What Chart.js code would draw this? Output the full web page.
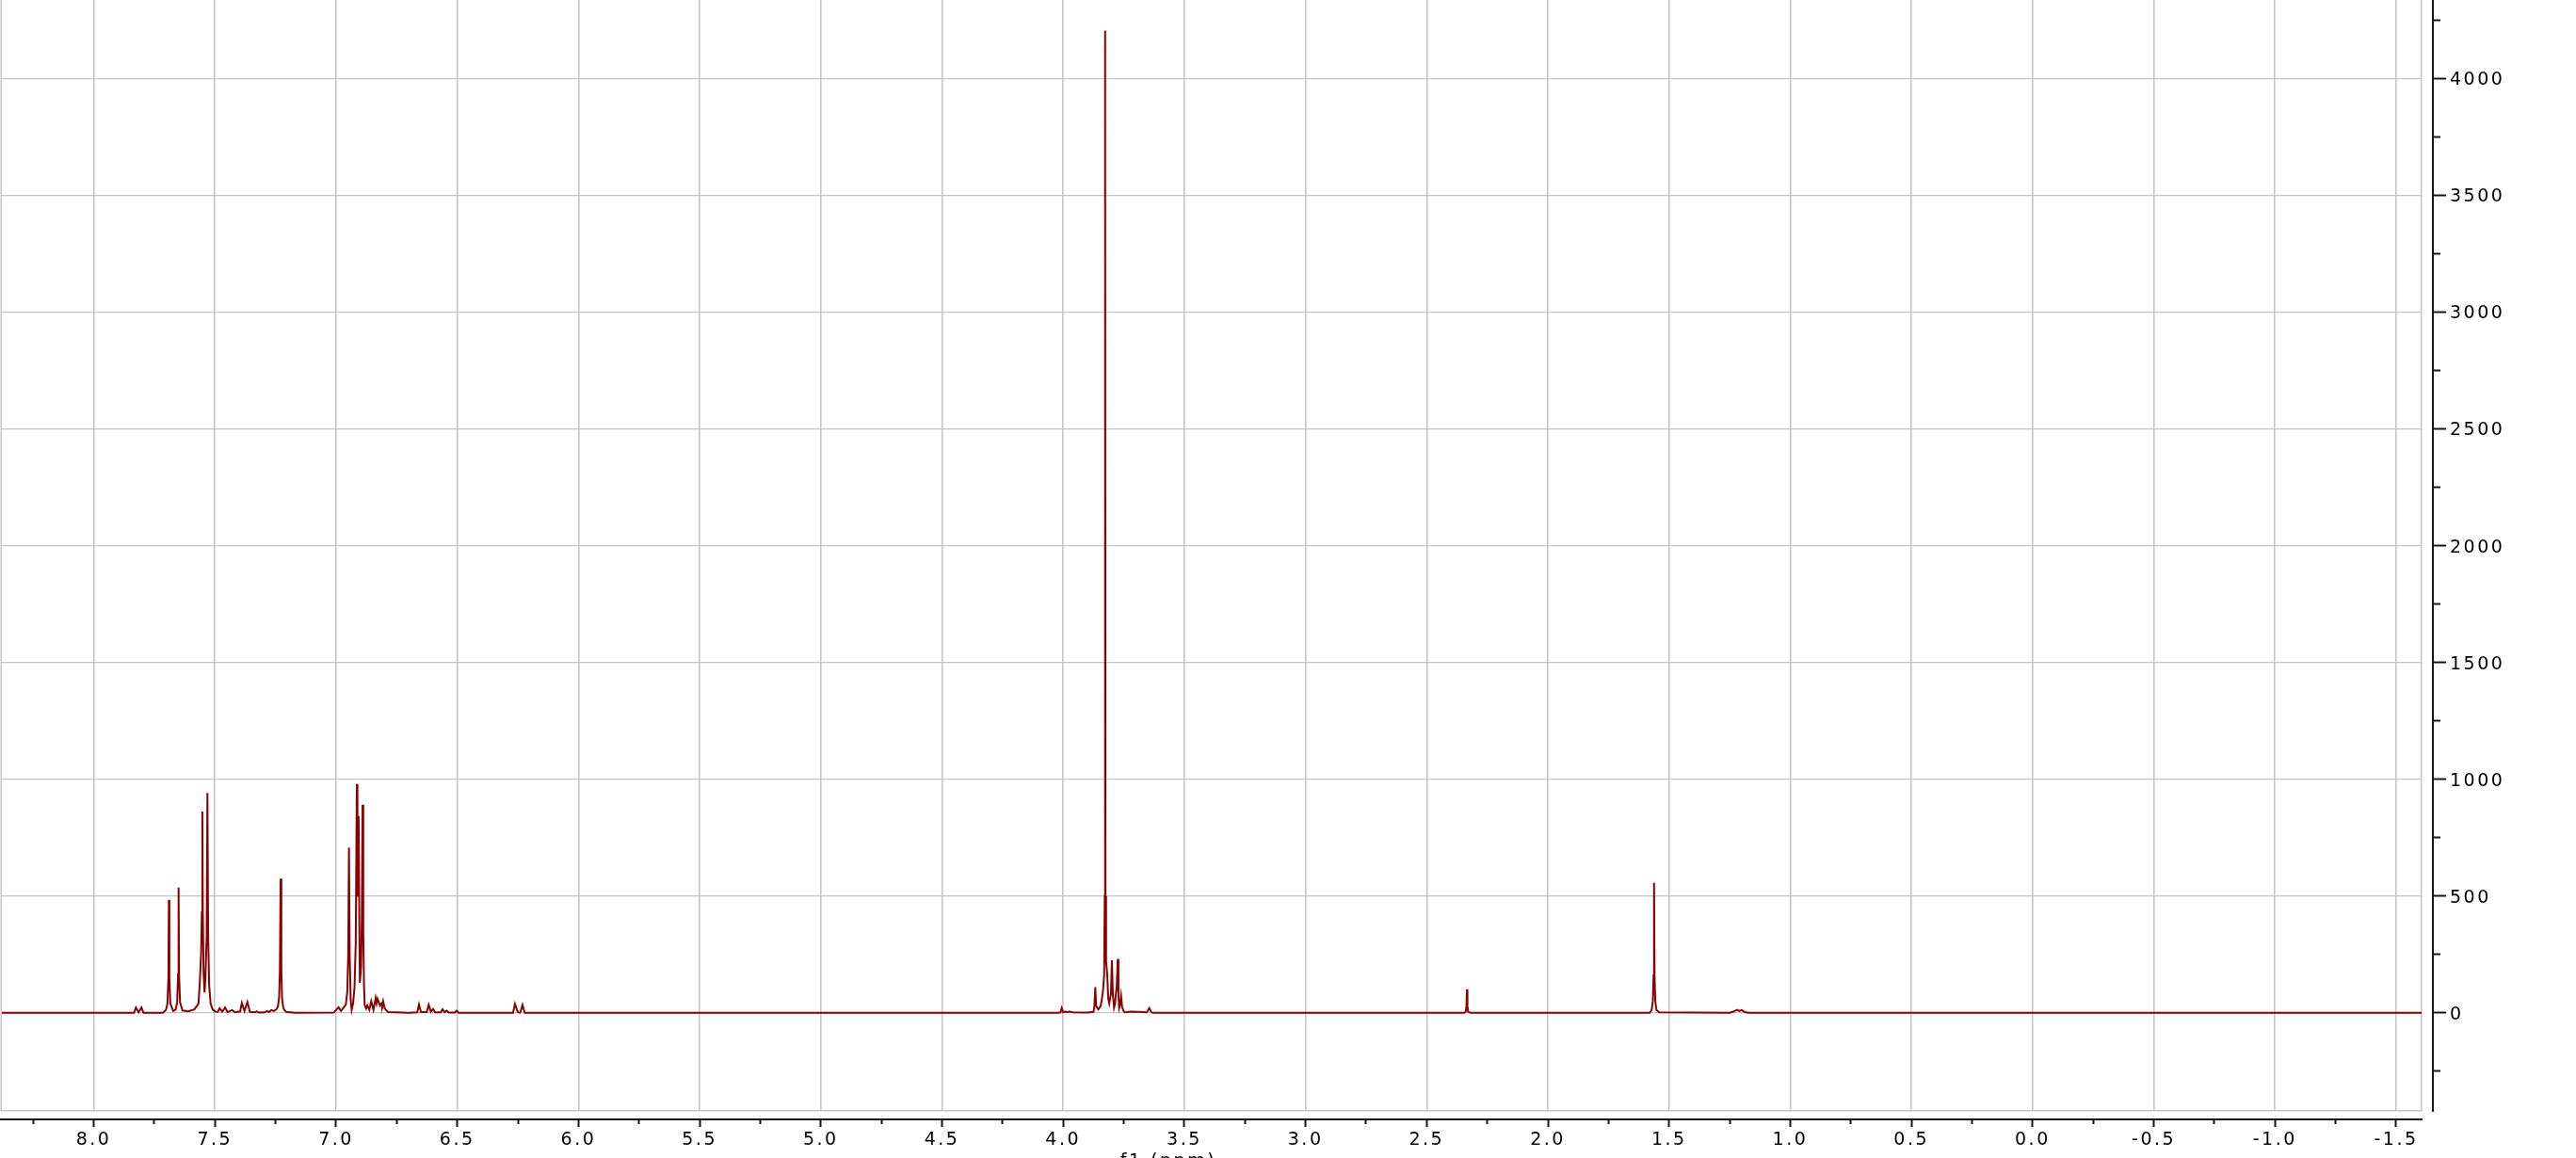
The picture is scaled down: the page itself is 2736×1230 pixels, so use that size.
<!DOCTYPE html>
<html><head><meta charset="utf-8">
<script src="https://cdn.jsdelivr.net/npm/chart.js@4.4.1/dist/chart.umd.min.js"></script>
<style>html,body{margin:0;padding:0;background:#fff;overflow:hidden}canvas{display:block}</style>
</head><body>
<canvas id="c" width="2736" height="1230"></canvas>
<script>
// ---- data: [chemical shift (ppm), intensity] ----
const aromaticRegion = [
  [8.40,0],[7.834,0],[7.826,23],[7.815,2],[7.803,23],[7.795,0],
  [7.715,0],[7.702,12],[7.696,40],[7.692,150],[7.690,484],[7.688,150],[7.684,40],[7.672,8],
  [7.662,14],[7.656,45],[7.652,165],[7.650,536],[7.648,165],[7.644,45],[7.634,10],
  [7.610,6],[7.585,15],[7.574,30],[7.568,40],[7.563,120],[7.557,260],[7.554,430],[7.552,862],
  [7.550,430],[7.547,180],[7.543,87],[7.539,160],[7.534,330],[7.531,941],[7.528,330],
  [7.524,120],[7.518,40],[7.510,15],[7.498,5],
  [7.488,4],[7.481,20],[7.470,5],[7.458,23],[7.448,3],[7.429,12],[7.418,2],
  [7.396,6],[7.389,43],[7.378,8],[7.366,46],[7.356,4],[7.335,2],[7.328,6],[7.318,1],
  [7.295,2],[7.286,7],[7.276,4],[7.267,12],[7.257,8],[7.247,14],[7.240,28],[7.235,70],
  [7.232,180],[7.229,575],[7.226,180],[7.223,60],[7.218,22],[7.214,13],[7.206,4],[7.170,0],
  [7.010,1],[6.990,24],[6.980,8],[6.968,24],[6.960,35],[6.954,90],[6.950,250],[6.947,708],
  [6.944,250],[6.940,60],[6.936,13],[6.930,40],[6.924,110],[6.919,300],[6.9145,980],
  [6.912,497],[6.907,843],[6.904,350],[6.902,128],[6.897,200],[6.894,400],[6.891,891],
  [6.888,350],[6.885,120],[6.882,34],[6.876,18],[6.871,31],[6.863,13],[6.855,50],[6.846,13],
  [6.841,40],[6.837,63],[6.833,40],[6.829,60],[6.819,31],[6.8135,39],[6.810,30],[6.806,50],
  [6.800,20],[6.794,12],[6.785,3],[6.700,0],
  [6.665,2],[6.658,36],[6.650,3],[6.626,3],[6.618,34],[6.609,5],[6.600,16],[6.592,2],
  [6.568,2],[6.561,15],[6.552,3],[6.544,9],[6.535,1],[6.510,1],[6.503,9],[6.495,0],
  [6.270,0],[6.262,38],[6.250,2],[6.240,1],[6.231,34],[6.222,0]
];
const methoxyRegion = [
  [4.020,0],[4.011,2],[4.006,20],[4.000,3],[3.990,5],[3.982,3],[3.975,5],[3.960,2],
  [3.900,1],[3.875,4],[3.871,30],[3.8675,110],[3.864,30],[3.855,15],[3.845,30],
  [3.836,90],[3.831,160],[3.8285,500],[3.827,4205],[3.8255,500],[3.823,220],[3.818,161],
  [3.814,60],[3.810,40],[3.803,80],[3.799,225],[3.795,80],[3.790,23],[3.786,40],
  [3.782,87],[3.779,110],[3.775,231],[3.772,80],[3.769,20],[3.765,35],[3.761,71],
  [3.757,25],[3.750,6],[3.744,2],[3.720,5],[3.690,4],[3.655,2],[3.6445,20],[3.636,2],[3.630,0]
];
const aliphaticRegion = [
  [2.345,0],[2.339,5],[2.336,30],[2.334,101],[2.332,30],[2.329,5],[2.320,0],
  [1.580,0],[1.572,12],[1.567,50],[1.564,160],[1.562,556],[1.560,160],[1.557,50],[1.552,12],
  [1.540,2],[1.250,0],[1.235,5],[1.219,13],[1.210,8],[1.200,12],[1.188,3],[1.170,0],[-1.62,0]
];

// ---- axes ----
const X_MAX = 8.383, X_MIN = -1.605;     // ppm, axis reversed
const Y_MIN = -420, Y_MAX = 4336;
const xMajorTicks = [8.0, 7.5, 7.0, 6.5, 6.0, 5.5, 5.0, 4.5, 4.0, 3.5, 3.0, 2.5, 2.0, 1.5, 1.0, 0.5, 0.0, -0.5, -1.0, -1.5];
const xMinorTicks = [8.25, 7.75, 7.25, 6.75, 6.25, 5.75, 5.25, 4.75, 4.25, 3.75, 3.25, 2.75, 2.25, 1.75, 1.25, 0.75, 0.25, -0.25, -0.75, -1.25];
const yMajorTicks = [0, 500, 1000, 1500, 2000, 2500, 3000, 3500, 4000];
const yMinorTicks = [-250, 250, 750, 1250, 1750, 2250, 2750, 3250, 3750, 4250];
const xTitle = 'f1 (ppm)';
const xTitleCenterPpm = 3.566;

const LINE = '#8b0000', GRID = '#c6c6c6', AXIS = '#151515';
const FONT = { family: '"DejaVu Sans", "Liberation Sans", sans-serif', size: 19 };
const SPACING = '2.5px';

const points = aromaticRegion.concat(methoxyRegion, aliphaticRegion).map(([x, y]) => ({ x, y }));

const near = (a, b) => Math.abs(a - b) < 1e-6;
const isMajor = (list, v) => list.some((t) => near(t, v));
const setTicks = (list) => (s) => { s.ticks = list.slice().sort((a, b) => a - b).map((v) => ({ value: v })); };

const decor = {
  id: 'decor',
  beforeLayout(chart) { chart.ctx.letterSpacing = SPACING; },
  beforeDraw(chart) { chart.ctx.letterSpacing = SPACING; },
  afterDraw(chart) {
    const { ctx, chartArea: a } = chart;
    ctx.save();
    ctx.strokeStyle = GRID; ctx.lineWidth = 1.5;
    ctx.beginPath(); ctx.moveTo(a.left + 0.25, a.top); ctx.lineTo(a.left + 0.25, a.bottom); ctx.stroke();
    ctx.letterSpacing = SPACING;
    ctx.fillStyle = '#000';
    ctx.font = FONT.size + 'px ' + FONT.family;
    ctx.textAlign = 'center'; ctx.textBaseline = 'alphabetic';
    ctx.fillText(xTitle, chart.scales.x.getPixelForValue(xTitleCenterPpm), 1239);
    ctx.restore();
  }
};

Chart.defaults.font.family = FONT.family;
Chart.defaults.font.size = FONT.size;
Chart.defaults.color = '#000';

new Chart(document.getElementById('c'), {
  type: 'line',
  data: { datasets: [{ data: points, borderColor: LINE, borderWidth: 2, pointRadius: 0, tension: 0, fill: false, xAxisID: 'x', yAxisID: 'y' }] },
  options: {
    responsive: false, animation: false, devicePixelRatio: 1,
    layout: { padding: { left: 1, top: 0, right: 0, bottom: 0 } },
    plugins: { legend: { display: false }, tooltip: { enabled: false } },
    scales: {
      x: {
        type: 'linear', position: 'bottom', weight: 0, reverse: true, min: X_MIN, max: X_MAX,
        afterBuildTicks: setTicks(xMajorTicks),
        ticks: { display: false },
        grid: { color: GRID, lineWidth: 1.6, drawTicks: false },
        border: { display: true, color: GRID, width: 1.5 },
        afterFit(s) { s.height = 9; }
      },
      xl: {
        type: 'linear', position: 'bottom', weight: 1, reverse: true, min: X_MIN, max: X_MAX,
        afterBuildTicks: setTicks(xMajorTicks.concat(xMinorTicks)),
        ticks: {
          autoSkip: false, maxRotation: 0, minRotation: 0, padding: 3, color: '#000',
          callback: (v) => isMajor(xMajorTicks, v) ? v.toFixed(1) : ''
        },
        grid: {
          drawOnChartArea: false, drawTicks: true, tickLength: 8, tickWidth: 2, tickColor: AXIS,
          tickBorderDash: (c) => (c.tick && isMajor(xMajorTicks, c.tick.value)) ? [] : [4, 100]
        },
        border: { display: true, color: AXIS, width: 2 },
        afterFit(s) { s.height = 41; s.paddingLeft = 0; s.paddingRight = 0; }
      },
      y: {
        type: 'linear', position: 'right', weight: 0, min: Y_MIN, max: Y_MAX,
        afterBuildTicks: setTicks(yMajorTicks),
        ticks: { display: false },
        grid: { color: GRID, lineWidth: 1.3, drawTicks: false },
        border: { display: true, color: GRID, width: 1.5 },
        afterFit(s) { s.width = 12; }
      },
      yl: {
        type: 'linear', position: 'right', weight: 1, min: Y_MIN, max: Y_MAX,
        afterBuildTicks: setTicks(yMajorTicks.concat(yMinorTicks)),
        ticks: {
          autoSkip: false, padding: 4, labelOffset: 2, color: '#000',
          callback: (v) => isMajor(yMajorTicks, v) ? String(Math.round(v)) : ''
        },
        grid: {
          drawOnChartArea: false, drawTicks: true, tickLength: 14, tickWidth: 2, tickColor: AXIS,
          tickBorderDash: (c) => (c.tick && isMajor(yMajorTicks, c.tick.value)) ? [] : [7, 100]
        },
        border: { display: true, color: AXIS, width: 2 },
        afterFit(s) { s.width = 152; s.paddingTop = 0; s.paddingBottom = 0; }
      }
    }
  },
  plugins: [decor]
});
</script>
</body></html>
